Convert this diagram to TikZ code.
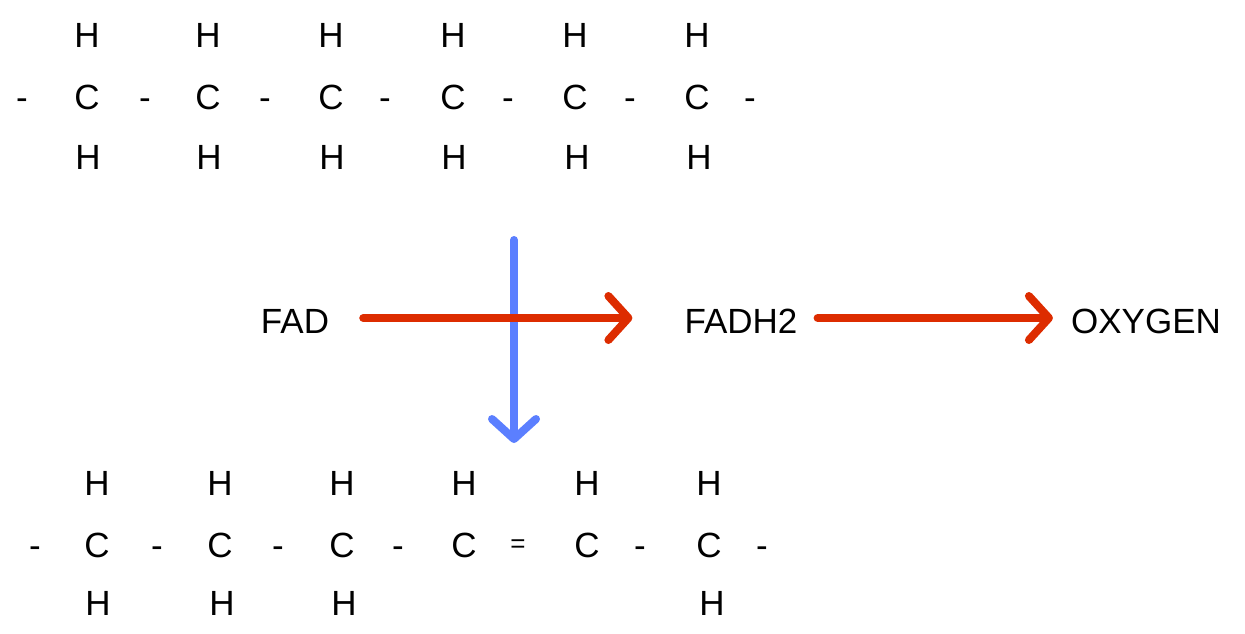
\documentclass[tikz,border=0pt]{standalone}
\usepackage{fontspec}
\setmainfont{Liberation Sans}
\usetikzlibrary{arrows.meta}
\definecolor{rd}{HTML}{DD2C00}
\definecolor{bl}{HTML}{5B7FFF}
\begin{document}
\begin{tikzpicture}[x=1pt,y=-1pt,
  t/.style={inner sep=0pt,text height=25pt,text depth=0pt,font=\fontsize{35}{40}\selectfont},
  arr/.style={line width=8pt,line cap=round,-{Straight Barb[length=20pt,width=44pt,line width=8pt,round]}}]
\useasboundingbox (0,0) rectangle (1245,633);
\foreach \x [count=\i] in {87,208,331,453,575,697}{
  \node[t] (th\i) at (\x,35) {H};
  \node[t] (tc\i) at (\x,97) {C};}
\foreach \x [count=\i] in {88,209,332,454,577,699}
  \node[t] (tl\i) at (\x,157) {H};
\foreach \x [count=\i] in {22,145,265,385,508,630,750}
  \node[t] (td\i) at (\x,97) {-};
\foreach \x [count=\i] in {97,220,342,464,587,709}{
  \node[t] (bh\i) at (\x,483) {H};
  \node[t] (bc\i) at (\x,545) {C};}
\foreach \x [count=\i] in {98,222,344,712}
  \node[t] (bl\i) at (\x,603) {H};
\foreach \x [count=\i] in {35,157,278,398,640,762}
  \node[t] (bd\i) at (\x,545) {-};
\node[t,font=\fontsize{26}{28}\selectfont,text height=18pt] (eq) at (518,543) {=};
\node[t] (fad) at (295,321) {FAD};
\node[t] (fadh) at (741,321) {FADH2};
\node[t] (oxy) at (1146,321) {OXYGEN};
\coordinate (btop) at (514,240);
\coordinate (bbot) at (514,443);
\draw[arr,bl] (btop) -- (bbot);
\draw[arr,rd] ([xshift=34pt,yshift=3pt]fad.east) -- ([xshift=-52pt,yshift=3pt]fadh.west);
\draw[arr,rd] ([xshift=20pt,yshift=3pt]fadh.east) -- ([xshift=-18pt,yshift=3pt]oxy.west);
\end{tikzpicture}
\end{document}
